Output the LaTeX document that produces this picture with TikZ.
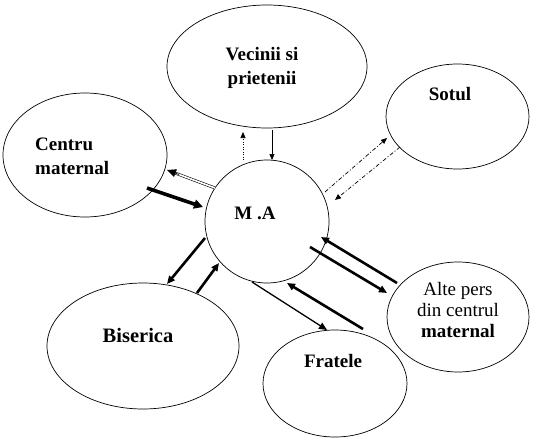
\documentclass[tikz,border=0pt]{standalone}
\usepackage{fontspec}
\setmainfont{Liberation Serif}
\usetikzlibrary{shapes.geometric,arrows.meta,calc}
\begin{document}
\begin{tikzpicture}[x=1pt,y=-1pt,
  bub/.style={draw, ellipse, inner sep=0pt, outer sep=0pt, line width=0.7pt},
  lbl/.style={font=\bfseries\fontsize{19}{24}\selectfont, align=center, inner sep=0pt},
  small tip/.style={-{Triangle[length=6pt,width=5pt]}},
  big tip/.style={-{Triangle[length=8pt,width=7pt]}},
  thinline/.style={line width=0.7pt},
  medline/.style={line width=2.6pt},
  heavyline/.style={line width=3.6pt},
  dashdot/.style={dash pattern=on 4pt off 2pt on 1pt off 2pt}]
\fill[white] (0,0) rectangle (534,441);
\useasboundingbox (0,0) rectangle (534,441);

% ellipses
\node[bub, minimum width=200pt, minimum height=123pt] (vec) at (267,66.5) {};
\node[bub, minimum width=124pt, minimum height=123pt] (ma) at (267,221.5) {};
\node[bub, minimum width=164pt, minimum height=124pt] (cen) at (85,155) {};
\node[bub, minimum width=143pt, minimum height=105pt] (sot) at (457.5,116.5) {};
\node[bub, minimum width=142pt, minimum height=110pt] (alt) at (458,317) {};
\node[bub, minimum width=192pt, minimum height=126pt] (bis) at (143,346) {};
\node[bub, minimum width=144pt, minimum height=107pt] (fra) at (335,383.5) {};

% texts
\node[lbl] (tvec) at ($(vec)+(-5,1)$) {Vecinii si\\prietenii};
\node[lbl] (tma) at ($(ma)+(-12,-8.5)$) {M .A};
\node[lbl, align=left, anchor=west] (tcen) at ($(cen)+(-50,1)$) {Centru\\maternal};
\node[lbl] (tsot) at ($(sot)+(-7.5,-22)$) {Sotul};
\node[lbl, font=\fontsize{19}{21}\selectfont] (talt) at ($(alt)+(0,-7)$) {Alte pers\\din centrul\\\textbf{maternal}};
\node[lbl, font=\bfseries\fontsize{20.5}{24}\selectfont] (tbis) at ($(bis)+(-5,-11)$) {Biserica};
\node[lbl] (tfra) at ($(fra)+(-2,-23)$) {Fratele};

% connectors
\draw[thinline, small tip, dash pattern=on 1pt off 1.5pt] ($(ma)+(-24,-61.5)$) -- ($(vec)+(-24,65.5)$);
\draw[thinline, small tip] ($(vec)+(5,63.5)$) -- ($(ma)+(5,-61.5)$);
\coordinate (d1) at ($(ma)+(-52,-33.5)$);
\coordinate (d2) at ($(cen)+(82,15)$);
\draw[double, double distance=1.6pt, line width=0.6pt, shorten >=7pt] (d1) -- (d2);
\draw[line width=0.6pt, -{Triangle[length=9pt,width=8pt]}] ($(d1)!0.75!(d2)$) -- (d2);
\draw[heavyline, -{Triangle[length=9pt,width=9pt]}] ($(cen)+(62,33)$) -- ($(ma)+(-64,-14.5)$);
\draw[thinline, dashdot, small tip] ($(ma)+(58,-29.5)$) -- ($(sot)+(-70.5,21.5)$);
\draw[thinline, dashdot, small tip] ($(sot)+(-57.5,30.5)$) -- ($(ma)+(68,-21.5)$);
\draw[medline, big tip] ($(ma)+(-62,16.5)$) -- ($(bis)+(24,-62)$);
\draw[medline, big tip] ($(bis)+(54,-53)$) -- ($(ma)+(-48,41.5)$);
\draw[line width=1.3pt, big tip] ($(ma)+(-15,60.5)$) -- ($(fra)+(-8,-53.5)$);
\draw[medline, big tip] ($(fra)+(28,-54.5)$) -- ($(ma)+(20,61.5)$);
\draw[medline, big tip] ($(alt)+(-61,-34)$) -- ($(ma)+(54,15.5)$);
\draw[medline, big tip] ($(ma)+(43,25.5)$) -- ($(alt)+(-71,-24)$);
\end{tikzpicture}
\end{document}
